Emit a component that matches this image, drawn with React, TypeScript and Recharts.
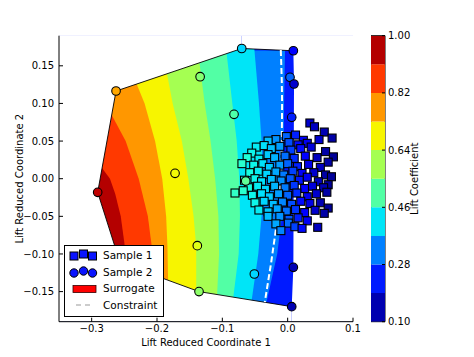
import React from 'react';
import {
  ComposedChart, BarChart, Area, Line, Scatter, Bar, XAxis, YAxis, Legend, ReferenceArea,
} from 'recharts';

const FONT = '"DejaVu Sans", sans-serif';

// ---------- axes ----------
const X_DOMAIN: [number, number] = [-0.35, 0.1];
const Y_DOMAIN: [number, number] = [-0.19, 0.19];
const X_TICKS = [-0.3, -0.2, -0.1, 0.0, 0.1];
const Y_TICKS = [-0.15, -0.1, -0.05, 0.0, 0.05, 0.1, 0.15];
const CB_TICKS = [0.1, 0.28, 0.46, 0.64, 0.82, 1.0];

// ---------- contour levels ----------
const LEVELS = [0.1, 0.19, 0.28, 0.37, 0.46, 0.55, 0.64, 0.73, 0.82, 0.91, 1.0];
const LEVEL_COLORS = ['#0000b0', '#001aff', '#0080ff', '#00e5f7', '#52ffa5', '#a5ff52', '#f7f500', '#ff9700', '#ff3900', '#b40000'];

// contour boundaries, points as [y, x] from top to bottom
const B_028 = [[0.1702, -0.004], [0.1, -0.0055], [0.05, -0.006], [0.0, -0.007], [-0.055, -0.0095], [-0.1, -0.016], [-0.1646, -0.0325]];
const B_037 = [[0.1723, -0.051], [0.1, -0.0439], [0.05, -0.04], [0.0, -0.038], [-0.05, -0.04], [-0.1, -0.045], [-0.1614, -0.0551]];
const B_046 = [[0.1662, -0.0934], [0.1, -0.0847], [0.05, -0.078], [0.0, -0.074], [-0.05, -0.073], [-0.1, -0.075], [-0.1574, -0.0832]];
const B_055 = [[0.154, -0.135], [0.1, -0.127], [0.05, -0.118], [0.0, -0.111], [-0.05, -0.106], [-0.1, -0.105], [-0.1539, -0.108]];
const B_064 = [[0.1394, -0.1847], [0.1, -0.176], [0.05, -0.162], [0.0, -0.152], [-0.05, -0.144], [-0.09, -0.14], [-0.1486, -0.14]];
const B_073 = [[0.1258, -0.2311], [0.1, -0.219], [0.05, -0.203], [0.0, -0.192], [-0.05, -0.186], [-0.09, -0.184], [-0.1349, -0.183]];
const B_082 = [[0.0846, -0.2693], [0.05, -0.248], [0.0, -0.228], [-0.05, -0.214], [-0.09, -0.208], [-0.1279, -0.205]];
const B_091 = [[0.0142, -0.2842], [0.0, -0.272], [-0.02, -0.264], [-0.05, -0.2555], [-0.085, -0.25], [-0.1147, -0.2464]];

// hull of the surrogate domain, [y, x]
const HULL_LEFT = [[0.173, -0.0703], [0.1165, -0.2627], [-0.0181, -0.2908], [-0.1115, -0.2566], [-0.15, -0.1357], [-0.17, 0.0062]];
const HULL_RIGHT = [[0.173, -0.0703], [0.17, 0.0087], [0.1258, 0.0097], [-0.1178, 0.0087], [-0.17, 0.0062]];

// constraint line, [y, x]
const CONSTRAINT = [[0.171, -0.0105], [0.13, -0.009], [0.1, -0.0085], [0.05, -0.009], [0.0, -0.01], [-0.055, -0.016], [-0.11, -0.025], [-0.164, -0.035]];

// Sample 2 (circles): [x, y, lift]
const SAMPLE2 = [
  [-0.0703, 0.173, 0.4], [0.0087, 0.17, 0.2], [0.0036, 0.1347, 0.3], [0.0097, 0.1258, 0.16],
  [-0.134, 0.1355, 0.56], [-0.2627, 0.1165, 0.76], [-0.0821, 0.0855, 0.5], [0.0062, 0.0815, 0.24],
  [-0.1724, 0.0071, 0.68], [-0.2908, -0.0181, 0.95], [-0.0642, -0.0031, 0.52], [-0.1383, -0.089, 0.66],
  [-0.051, -0.1266, 0.4], [0.0087, -0.1178, 0.14], [-0.1357, -0.15, 0.57], [0.0062, -0.17, 0.14],
  [-0.2566, -0.1115, 0.88],
];

// Sample 1 (squares): [x, y, lift]
const SAMPLE1 = [
  [0.034, 0.074, 0.16], [0.041, 0.069, 0.15], [0.056, 0.062, 0.14], [0.068, 0.054, 0.13], [0.024, 0.051, 0.2],
  [0.012, 0.058, 0.24], [-0.002, 0.056, 0.3], [0.048, 0.052, 0.16], [0.03, 0.047, 0.19], [0.002, 0.048, 0.28],
  [-0.018, 0.052, 0.34], [0.016, 0.045, 0.22], [-0.03, 0.05, 0.38],
  [-0.048, 0.042, 0.42], [-0.036, 0.044, 0.41], [-0.025, 0.04, 0.38], [-0.012, 0.043, 0.35], [0.005, 0.038, 0.27],
  [0.02, 0.04, 0.22], [0.036, 0.042, 0.17], [0.058, 0.036, 0.13], [-0.055, 0.034, 0.43], [-0.03, 0.032, 0.39],
  [-0.062, 0.028, 0.45], [-0.044, 0.026, 0.42], [-0.02, 0.028, 0.37], [-0.004, 0.03, 0.31], [0.01, 0.027, 0.25],
  [0.027, 0.03, 0.2], [0.045, 0.028, 0.15], [0.07, 0.029, 0.12], [0.062, 0.022, 0.13],
  [-0.07, 0.02, 0.46], [-0.052, 0.018, 0.43], [-0.038, 0.02, 0.41], [-0.028, 0.015, 0.39], [-0.012, 0.018, 0.35],
  [0.0, 0.02, 0.3], [0.015, 0.016, 0.24], [0.032, 0.019, 0.18], [0.05, 0.015, 0.15],
  [-0.058, 0.008, 0.44], [-0.045, 0.01, 0.42], [-0.032, 0.006, 0.4], [-0.018, 0.009, 0.36], [-0.006, 0.005, 0.32],
  [0.008, 0.01, 0.27], [0.022, 0.007, 0.21], [0.04, 0.008, 0.16], [0.058, 0.005, 0.13], [0.067, 0.0026, 0.12],
  [-0.066, -0.002, 0.45], [-0.05, 0.0, 0.43], [-0.04, -0.004, 0.41], [-0.025, -0.001, 0.38], [-0.01, -0.003, 0.34],
  [0.004, 0.0, 0.29], [0.018, -0.002, 0.23], [0.03, 0.002, 0.19], [0.047, -0.004, 0.15], [0.062, -0.008, 0.12],
  [-0.06, -0.012, 0.44], [-0.046, -0.01, 0.42], [-0.034, -0.014, 0.4], [-0.02, -0.01, 0.37], [-0.004, -0.012, 0.32],
  [0.01, -0.009, 0.26], [0.026, -0.013, 0.2], [0.038, -0.01, 0.17], [0.055, -0.012, 0.14],
  [-0.0806, -0.019, 0.47], [-0.068, -0.016, 0.46], [-0.054, -0.022, 0.43], [-0.04, -0.02, 0.41], [-0.028, -0.024, 0.39],
  [-0.014, -0.02, 0.35], [0.0, -0.022, 0.3], [0.014, -0.019, 0.25], [0.03, -0.024, 0.19], [0.044, -0.02, 0.16],
  [0.06, -0.018, 0.13],
  [-0.05, -0.032, 0.43], [-0.036, -0.03, 0.4], [-0.022, -0.034, 0.38], [-0.008, -0.031, 0.33], [0.006, -0.034, 0.28],
  [0.02, -0.03, 0.22], [0.034, -0.033, 0.18], [0.05, -0.032, 0.14], [0.062, -0.039, 0.12],
  [-0.044, -0.0416, 0.42], [-0.03, -0.044, 0.39], [-0.016, -0.04, 0.36], [-0.002, -0.043, 0.31], [0.012, -0.041, 0.26],
  [0.026, -0.045, 0.2], [0.042, -0.042, 0.16], [0.056, -0.046, 0.13],
  [-0.03, -0.05, 0.38], [-0.012, -0.05, 0.34], [0.002, -0.054, 0.29], [0.016, -0.052, 0.24], [0.03, -0.056, 0.19],
  [-0.018, -0.06, 0.36], [0.001, -0.059, 0.31], [0.011, -0.0638, 0.27], [0.022, -0.066, 0.22], [0.046, -0.0646, 0.15],
  [-0.0104, -0.069, 0.33],
];

const LEGEND_ITEMS = [
  { label: 'Sample 1', kind: 'squares' },
  { label: 'Sample 2', kind: 'circles' },
  { label: 'Surrogate', kind: 'patch' },
  { label: 'Constraint', kind: 'dash' },
];

// ---------- helpers ----------
const JET = {
  r: [[0, 0], [0.35, 0], [0.66, 1], [0.89, 1], [1, 0.5]],
  g: [[0, 0], [0.125, 0], [0.375, 1], [0.64, 1], [0.91, 0], [1, 0]],
  b: [[0, 0.5], [0.11, 1], [0.34, 1], [0.65, 0], [1, 0]],
};
function segVal(pts: number[][], t: number) {
  for (let i = 1; i < pts.length; i++) {
    if (t <= pts[i][0]) {
      const [x0, y0] = pts[i - 1];
      const [x1, y1] = pts[i];
      return y0 + ((t - x0) / (x1 - x0)) * (y1 - y0);
    }
  }
  return pts[pts.length - 1][1];
}
function jet(v: number) {
  const t = Math.max(0, Math.min(1, (v - 0.1) / 0.9));
  const c = (k: number[][]) => Math.round(255 * segVal(k, t));
  return `rgb(${c(JET.r)},${c(JET.g)},${c(JET.b)})`;
}
const fmt = (d: number) => (v: number) => {
  const s = Math.abs(v).toFixed(d);
  return v < 0 ? '\u2212' + s : s;
};

const bandLayers = [
  { pts: B_028, color: LEVEL_COLORS[2] },
  { pts: B_037, color: LEVEL_COLORS[3] },
  { pts: B_046, color: LEVEL_COLORS[4] },
  { pts: B_055, color: LEVEL_COLORS[5] },
  { pts: B_064, color: LEVEL_COLORS[6] },
  { pts: B_073, color: LEVEL_COLORS[7] },
  { pts: B_082, color: LEVEL_COLORS[8] },
  { pts: B_091, color: LEVEL_COLORS[9] },
].map((l) => ({ color: l.color, data: l.pts.map(([y, x]) => ({ y, r: [X_DOMAIN[0], x] })) }));

const baseData = [
  { y: Y_DOMAIN[1], r: [X_DOMAIN[0], X_DOMAIN[1]] },
  { y: Y_DOMAIN[0], r: [X_DOMAIN[0], X_DOMAIN[1]] },
];
const maskLeft = [
  { y: Y_DOMAIN[1], r: [X_DOMAIN[0], HULL_LEFT[0][1]] },
  ...HULL_LEFT.map(([y, x]) => ({ y, r: [X_DOMAIN[0], x] })),
  { y: Y_DOMAIN[0], r: [X_DOMAIN[0], HULL_LEFT[HULL_LEFT.length - 1][1]] },
];
const maskRight = [
  { y: Y_DOMAIN[1], r: [HULL_RIGHT[0][1], X_DOMAIN[1]] },
  ...HULL_RIGHT.map(([y, x]) => ({ y, r: [x, X_DOMAIN[1]] })),
  { y: Y_DOMAIN[0], r: [HULL_RIGHT[HULL_RIGHT.length - 1][1], X_DOMAIN[1]] },
];
const outlineData = [...HULL_LEFT].reverse().concat([HULL_RIGHT[1]]).map(([y, x]) => ({ x, y }));
const constraintData = CONSTRAINT.map(([y, x]) => ({ x, y }));
const s1Data = SAMPLE1.map(([x, y, v]) => ({ x, y, v }));
const s2Data = SAMPLE2.map(([x, y, v]) => ({ x, y, v }));

const cbRow: Record<string, number | string> = { name: 'cb', base: LEVELS[0] };
LEVEL_COLORS.forEach((_, i) => { cbRow['s' + i] = +(LEVELS[i + 1] - LEVELS[i]).toFixed(4); });
const cbData = [cbRow];

// ---------- shapes ----------
const SquareShape = (p: any) => (
  <rect x={p.cx - 4} y={p.cy - 4} width={8} height={8} fill={jet(p.payload.v)} stroke="#000" strokeWidth={1.1} />
);
const CircleShape = (p: any) => (
  <circle cx={p.cx} cy={p.cy} r={4.3} fill={jet(p.payload.v)} stroke="#000" strokeWidth={1.1} />
);

const LegendSymbol = ({ kind }: { kind: string }) => {
  const blue = '#0a14ff';
  if (kind === 'squares') {
    return (
      <svg width={30} height={14}>
        {[[6, 8], [15.5, 6], [24.5, 8]].map(([cx, cy], i) => (
          <rect key={i} x={cx - 4} y={cy - 4} width={8} height={8} fill={blue} stroke="#000" strokeWidth={1} />
        ))}
      </svg>
    );
  }
  if (kind === 'circles') {
    return (
      <svg width={30} height={14}>
        {[[6, 8], [15.5, 6], [24.5, 8]].map(([cx, cy], i) => (
          <circle key={i} cx={cx} cy={cy} r={4.2} fill={blue} stroke="#000" strokeWidth={1} />
        ))}
      </svg>
    );
  }
  if (kind === 'patch') {
    return (
      <svg width={30} height={14}>
        <rect x={5} y={3.5} width={23} height={7} fill="#ff0000" stroke="#300" strokeWidth={0.8} />
      </svg>
    );
  }
  return (
    <svg width={30} height={14}>
      <line x1={8} y1={7} x2={26} y2={7} stroke="#999" strokeWidth={1.2} strokeDasharray="5 4" />
    </svg>
  );
};

const LegendBox = () => (
  <div
    style={{
      border: '1px solid #000', background: '#fff', padding: '1px 6px 2px 3px',
      fontFamily: FONT, fontSize: 10.5, color: '#000', lineHeight: '16.7px',
    }}
  >
    {LEGEND_ITEMS.map((it) => (
      <div key={it.label} style={{ display: 'flex', alignItems: 'center', height: 16.7 }}>
        <LegendSymbol kind={it.kind} />
        <span style={{ marginLeft: 5 }}>{it.label}</span>
      </div>
    ))}
  </div>
);

const tickStyle = { fontSize: 10, fill: '#000', fontFamily: FONT };

const YTitle = (props: any) => {
  const vb = props.viewBox;
  const cx = vb.x + 20;
  const cy = vb.y + vb.height / 2;
  return (
    <text x={cx} y={cy} transform={`rotate(-90, ${cx}, ${cy})`} textAnchor="middle" dominantBaseline="central"
      style={{ fontSize: 10, fontFamily: FONT, fill: '#000' }}>
      Lift Reduced Coordinate 2
    </text>
  );
};
const XTitle = (props: any) => {
  const vb = props.viewBox;
  return (
    <text x={vb.x + vb.width / 2} y={vb.y + 20.5} textAnchor="middle" dominantBaseline="central"
      style={{ fontSize: 10, fontFamily: FONT, fill: '#000' }}>
      Lift Reduced Coordinate 1
    </text>
  );
};
const CbTitle = (props: any) => {
  const vb = props.viewBox;
  const cx = vb.x + 30;
  const cy = vb.y + vb.height / 2;
  return (
    <text x={cx} y={cy} transform={`rotate(-90, ${cx}, ${cy})`} textAnchor="middle" dominantBaseline="central"
      style={{ fontSize: 10, fontFamily: FONT, fill: '#000' }}>
      Lift Coefficient
    </text>
  );
};

export default function App() {
  return (
    <div style={{ position: 'absolute', left: 0, top: 0, width: 474, height: 357, background: '#fff', fontFamily: FONT }}>
      <div style={{ position: 'absolute', left: 0, top: 0 }}>
        <ComposedChart layout="vertical" width={474} height={357} margin={{ top: 35.7, right: 121, bottom: 0, left: 0 }}>
          <Area data={baseData} dataKey="r" type="linear" fill={LEVEL_COLORS[1]} fillOpacity={1} stroke="none" isAnimationActive={false} />
          {bandLayers.map((l, i) => (
            <Area key={i} data={l.data} dataKey="r" type="linear" fill={l.color} fillOpacity={1} stroke="none" isAnimationActive={false} />
          ))}
          <Area data={maskLeft} dataKey="r" type="linear" fill="#fff" fillOpacity={1} stroke="none" isAnimationActive={false} />
          <Area data={maskRight} dataKey="r" type="linear" fill="#fff" fillOpacity={1} stroke="none" isAnimationActive={false} />
          <Line data={outlineData} dataKey="x" type="linear" stroke="#000" strokeWidth={0.9} dot={false} isAnimationActive={false} />
          <Line data={constraintData} dataKey="x" type="linear" stroke="#fff" strokeWidth={2} strokeDasharray="6 3" dot={false} isAnimationActive={false} />
          <Scatter data={s1Data} shape={SquareShape} isAnimationActive={false} />
          <Scatter data={s2Data} shape={CircleShape} isAnimationActive={false} />
          <XAxis type="number" dataKey="x" domain={X_DOMAIN} ticks={X_TICKS} allowDataOverflow height={35.3}
            tickFormatter={fmt(1)} tick={tickStyle} tickSize={-4} tickMargin={7}
            axisLine={{ stroke: '#000' }} tickLine={{ stroke: '#000' }} label={<XTitle />} />
          <XAxis xAxisId="top" orientation="top" type="number" domain={X_DOMAIN} ticks={X_TICKS} allowDataOverflow height={0}
            tick={false} tickSize={-4} axisLine={{ stroke: '#000' }} tickLine={{ stroke: '#000' }} />
          <YAxis type="number" dataKey="y" domain={Y_DOMAIN} ticks={Y_TICKS} allowDataOverflow width={59} reversed
            tickFormatter={fmt(2)} tick={tickStyle} tickSize={-4} tickMargin={9}
            axisLine={{ stroke: '#000' }} tickLine={{ stroke: '#000' }} label={<YTitle />} />
          <YAxis yAxisId="right" orientation="right" type="number" domain={Y_DOMAIN} ticks={Y_TICKS} allowDataOverflow width={0} reversed
            tick={false} tickSize={-4} axisLine={{ stroke: '#000' }} tickLine={{ stroke: '#000' }} />
          <Legend layout="vertical" align="center" verticalAlign="middle" content={<LegendBox />}
            wrapperStyle={{ left: 64, top: 245, width: 'auto', height: 'auto' }} />
        </ComposedChart>
      </div>
      <div style={{ position: 'absolute', left: 371, top: 0 }}>
        <BarChart width={103} height={357} data={cbData} margin={{ top: 35.7, right: 29, bottom: 35.3, left: 0 }} barCategoryGap={0}>
          <XAxis dataKey="name" hide />
          <YAxis orientation="right" type="number" domain={[LEVELS[0], LEVELS[LEVELS.length - 1]]} ticks={CB_TICKS}
            allowDataOverflow width={60} tickFormatter={fmt(2)} tick={tickStyle} tickSize={-3} tickMargin={6}
            axisLine={false} tickLine={{ stroke: '#000' }} label={<CbTitle />} />
          <Bar dataKey="base" stackId="a" fill="transparent" isAnimationActive={false} />
          {LEVEL_COLORS.map((c, i) => (
            <Bar key={i} dataKey={'s' + i} stackId="a" fill={c} isAnimationActive={false} />
          ))}
          <ReferenceArea y1={LEVELS[0]} y2={LEVELS[LEVELS.length - 1]} fill="none" stroke="#000" strokeWidth={1} ifOverflow="visible" />
        </BarChart>
      </div>
    </div>
  );
}
